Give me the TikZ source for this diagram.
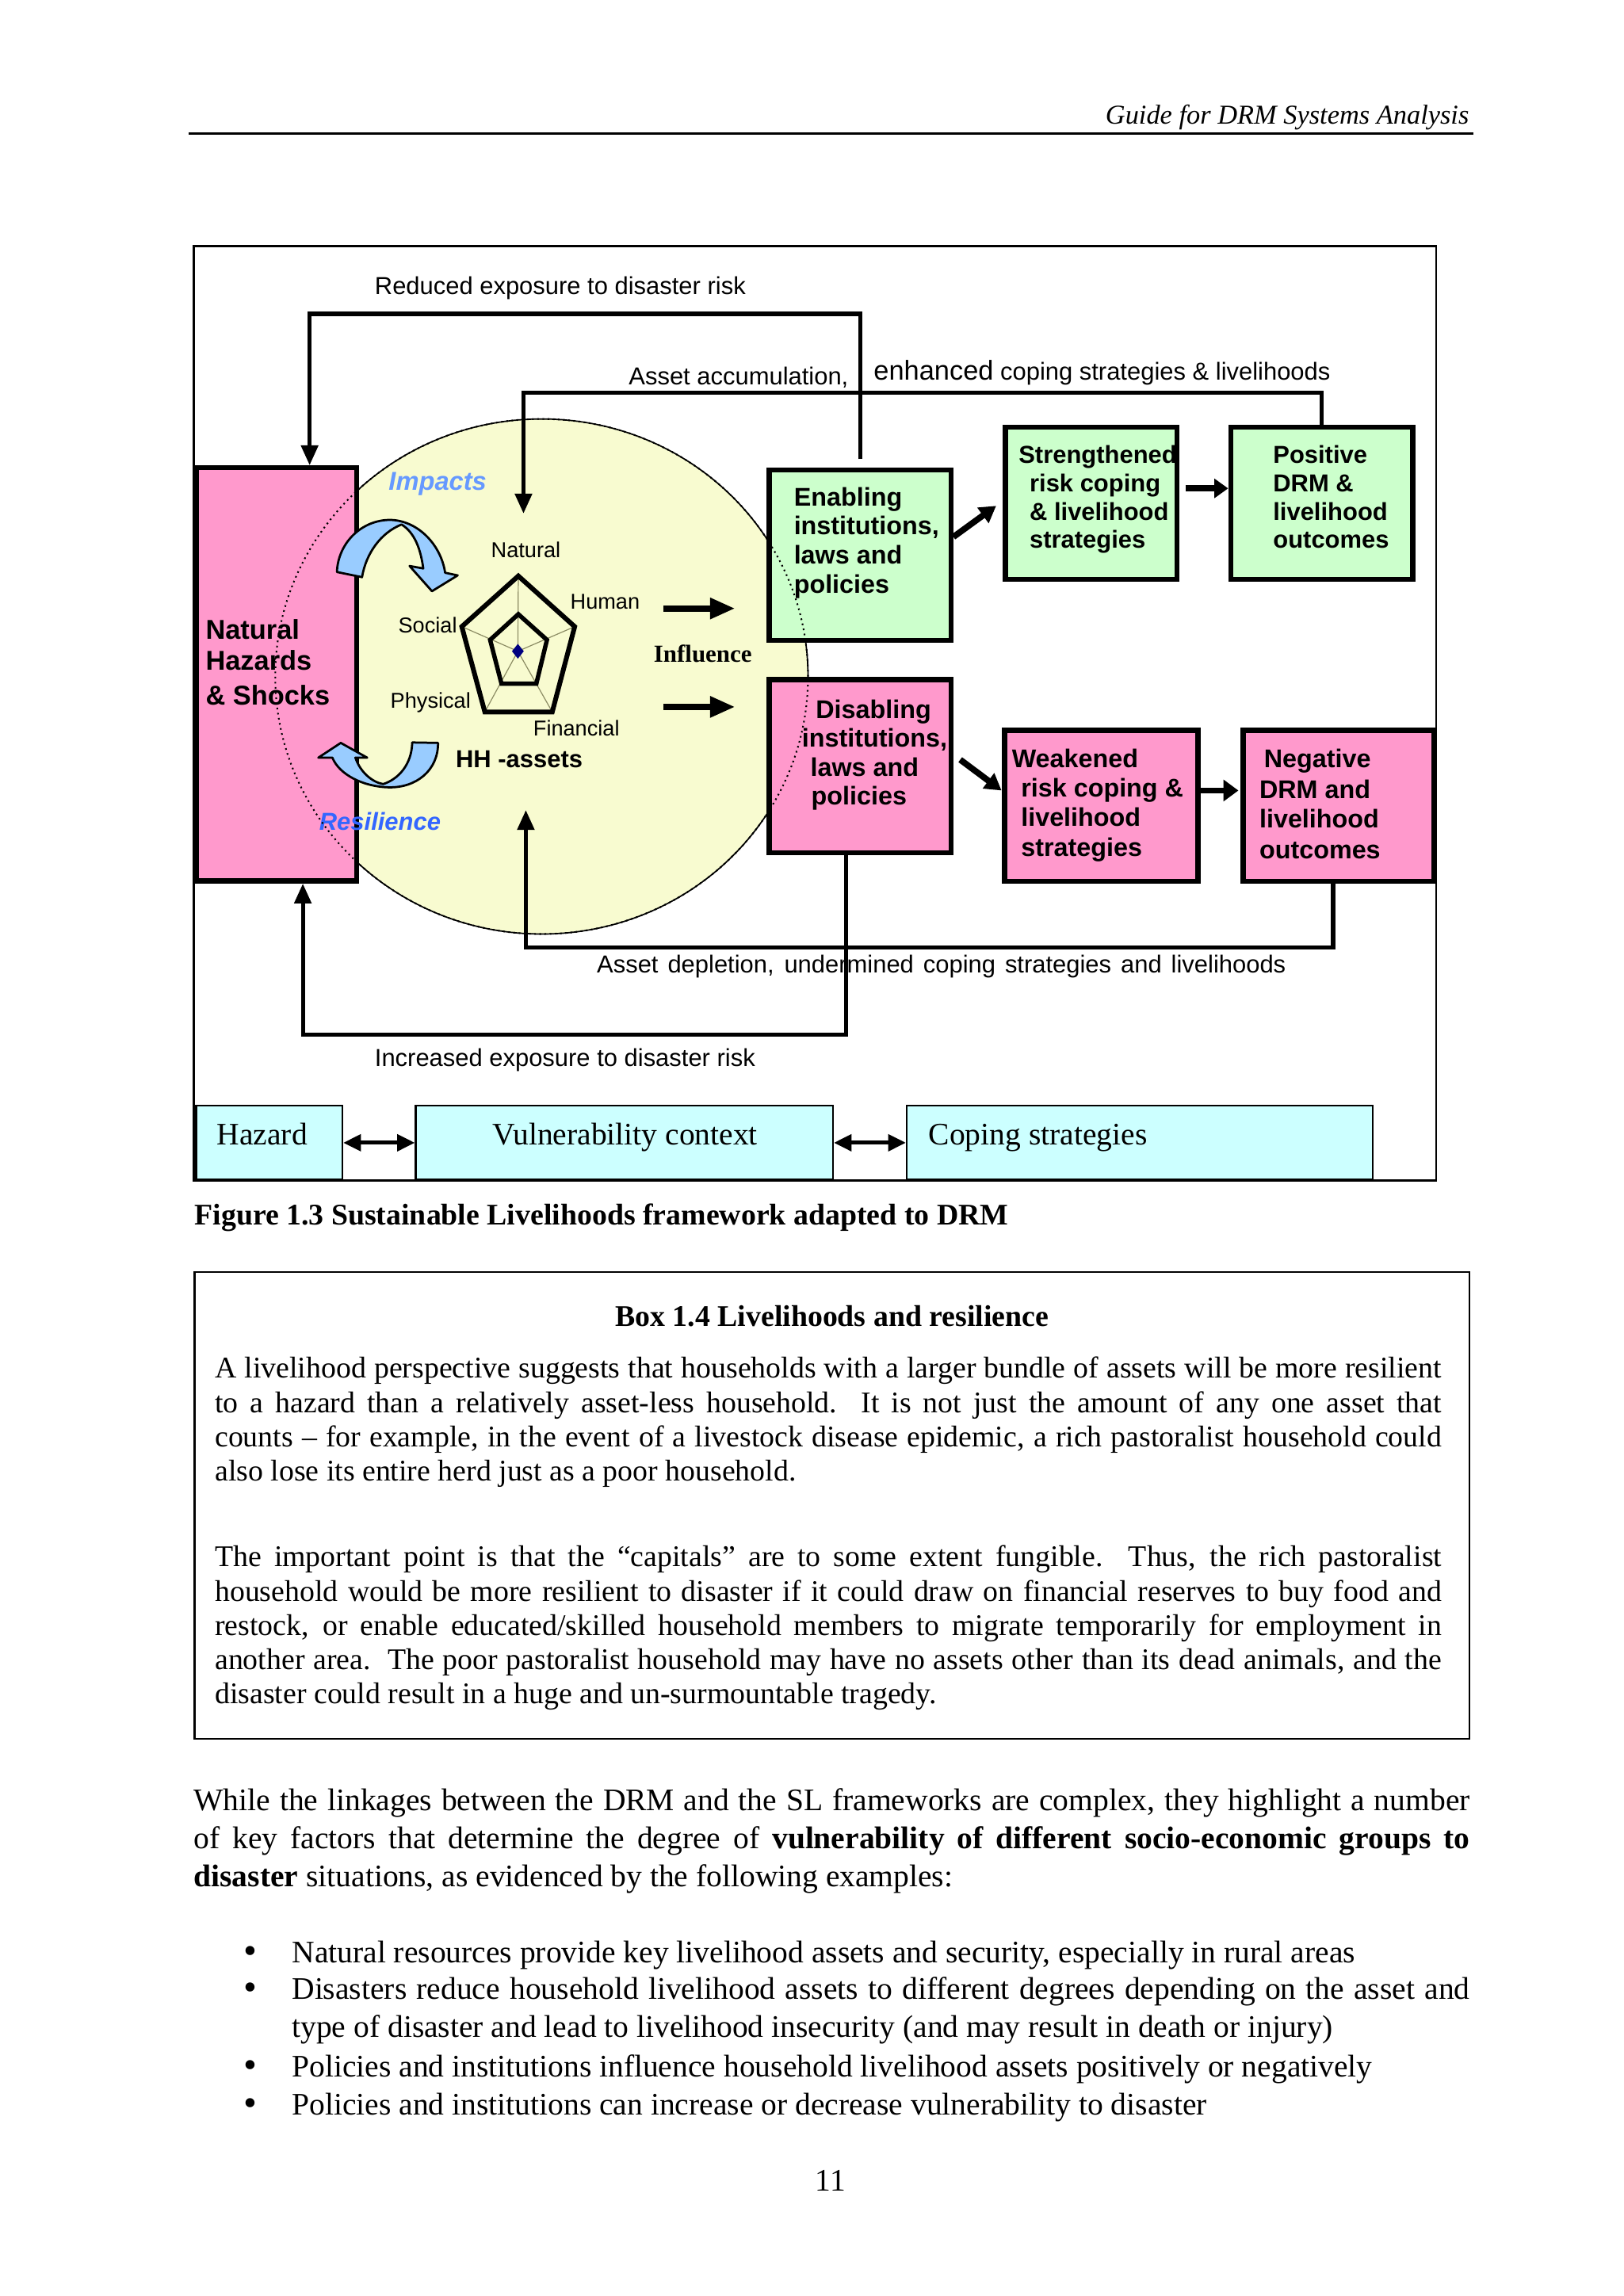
\documentclass[tikz,border=0pt]{standalone}
\usepackage{fontspec}
\setmainfont{Liberation Serif}
\newfontfamily\arialf{Liberation Sans}
\usetikzlibrary{arrows.meta}
\newlength{\ulen}\setlength{\ulen}{0.5415pt}
\definecolor{pinkc}{RGB}{255,153,204}
\definecolor{greenc}{RGB}{204,255,204}
\definecolor{yelc}{RGB}{248,251,208}
\definecolor{cyanc}{RGB}{204,255,255}
\definecolor{bluearr}{RGB}{153,204,255}
\definecolor{imptxt}{RGB}{102,153,255}
\definecolor{restxt}{RGB}{51,102,255}
\definecolor{navyc}{RGB}{0,0,128}
\definecolor{spokec}{RGB}{140,140,100}
\begin{document}
\begin{tikzpicture}[x=0.5415pt,y=-0.5415pt,
  box/.style={draw=black,line width=1.85pt,inner sep=0pt,line join=miter},
  legbox/.style={draw=black,fill=cyanc,line width=0.65pt,inner sep=0pt},
  lbl/.style={inner sep=0pt,anchor=base west,font=\arialf\bfseries\fontsize{9.4}{10.7}\selectfont},
  lbls/.style={inner sep=0pt,anchor=base west,font=\arialf\bfseries\fontsize{9}{10.3}\selectfont},
  sm/.style={inner sep=0pt,font=\arialf\fontsize{7.9}{9}\selectfont},
  lp/.style={inner sep=0pt,font=\arialf\fontsize{9}{10.8}\selectfont},
  loopln/.style={line width=1.5pt,line join=miter,-{Triangle[length=7.3pt,width=6.1pt]}},
  blk/.style={line width=2.27pt},
  dbl/.style={line width=1.45pt,{Triangle[length=6.5pt,width=6pt]}-{Triangle[length=6.5pt,width=6pt]}},
  txt/.style={inner sep=0pt,anchor=base west,font=\fontsize{11.5}{13.8}\selectfont},
  btxt/.style={inner sep=0pt,anchor=base west,font=\fontsize{11}{12.65}\selectfont},
  leg/.style={inner sep=0pt,anchor=base west,font=\fontsize{11.5}{13.8}\selectfont},
  bul/.style={inner sep=0pt,anchor=base,font=\fontsize{14}{14}\selectfont},
  barrow/.style={fill=bluearr,draw=black,line width=0.8pt,line join=round}
]
\fill[white] (0,0) rectangle (1100,1555.8);
\useasboundingbox (0,0) rectangle (1100,1555.8);

% header
\node[inner sep=0pt,anchor=base east,font=\itshape\fontsize{10}{12}\selectfont] (hdr) at (995.7,83.8) {Guide for DRM Systems Analysis};
\draw[line width=1pt] (127.8,90.5) -- (998.5,90.5);

% frame
\draw[line width=0.7pt] (131.2,166.8) rectangle (973,800);

% yellow circle
\fill[yelc] (367,458.4) ellipse [x radius=97.74pt, y radius=94.49pt];
\draw[line width=0.5pt] (367,458.4) ellipse [x radius=97.74pt, y radius=94.49pt];

% pentagon
\foreach \p in {(351.2,390.3),(389.4,424.6),(374.2,482.4),(328.5,482.4),(312.9,424.6)}
  \draw[spokec,line width=0.35pt] (350.9,441.3) -- \p;
\draw[line width=1.75pt,line join=miter] (351.2,390.3) -- (389.4,424.6) -- (374.2,482.4) -- (328.5,482.4) -- (312.9,424.6) -- cycle;
\draw[line width=1.6pt,line join=miter] (351.2,416.2) -- (370.6,433.6) -- (363.4,463.3) -- (339.8,463.3) -- (332.1,433.6) -- cycle;
\fill[navyc] (346.9,441.3) -- (350.9,436.3) -- (354.9,441.3) -- (350.9,446.3) -- cycle;

\node[sm,anchor=base] (lnat) at (356.3,377.7) {Natural};
\node[sm,anchor=base west] (lhum) at (386.1,412.8) {Human};
\node[sm,anchor=base east] (lsoc) at (310,428.7) {Social};
\node[sm,anchor=base east] (lphy) at (319.3,479.6) {Physical};
\node[sm,anchor=base west] (lfin) at (361,498.8) {Financial};
\node[lbls] (lhh) at (308.5,520) {HH -assets};
\node[inner sep=0pt,anchor=base west,font=\bfseries\fontsize{9}{10.8}\selectfont] (linf) at (442.6,448.9) {Influence};

% influence arrows
\coordinate (inf1s) at (449.7,412.3);
\coordinate (inf1e) at (498.1,412.3);
\coordinate (inf2s) at (449.7,479);
\coordinate (inf2e) at (498.1,479);
\draw[blk,-{Triangle[length=9.2pt,width=7.3pt]}] (inf1s) -- (inf1e);
\draw[blk,-{Triangle[length=9.2pt,width=7.3pt]}] (inf2s) -- (inf2e);

% boxes
\node[box,fill=pinkc,minimum width=58.86pt,minimum height=151.62pt] (nh) at (187.25,457) {};
\node[box,fill=greenc,minimum width=66.66pt,minimum height=62.6pt] (enab) at (582.75,376.2) {};
\node[box,fill=pinkc,minimum width=66.66pt,minimum height=63.57pt] (disab) at (582.75,519.2) {};
\node[box,fill=greenc,minimum width=62.92pt,minimum height=55.77pt] (stren) at (739.4,341.1) {};
\node[box,fill=greenc,minimum width=66.77pt,minimum height=55.77pt] (posi) at (895.55,341.1) {};
\node[box,fill=pinkc,minimum width=70.94pt,minimum height=55.45pt] (weak) at (746.2,546) {};
\node[box,fill=pinkc,minimum width=70.07pt,minimum height=55.45pt] (neg) at (907,546) {};

% blue curved arrows (on top of the hazard box)
\draw[barrow] (228.3,387.6) .. controls (229,368) and (245,352) .. (264.9,352.3)
  .. controls (284,353) and (299,370) .. (301.6,388.1) -- (310.1,389.9) -- (292.7,400.6)
  -- (277.5,383.5) -- (286.8,385.2) .. controls (285,372) and (281,361) .. (272.1,355.4)
  .. controls (258,361) and (248,375) .. (245.3,391.1) -- cycle;
\draw[barrow] (296.8,503.4) .. controls (297,522) and (282,534) .. (263.2,533.5)
  .. controls (246,533) and (230,525) .. (225.2,513.4) -- (215.7,513.4) -- (230.9,503.4)
  -- (248.8,513.4) -- (240.8,513.4) .. controls (244,523) and (252,530) .. (259.6,531.3)
  .. controls (270,528) and (279,518) .. (279.3,503.1) -- cycle;
\node[inner sep=0pt,anchor=base west,text=imptxt,font=\arialf\bfseries\itshape\fontsize{9.5}{11}\selectfont] (limp) at (263,332) {Impacts};
\node[inner sep=0pt,anchor=base west,text=restxt,font=\arialf\bfseries\itshape\fontsize{9}{11}\selectfont] (lres) at (216,562.3) {Resilience};

% box texts
\node[inner sep=0pt,anchor=base west,font=\arialf\bfseries\fontsize{10}{12}\selectfont] (nh1) at (139,432.9) {Natural};
\node[inner sep=0pt,anchor=base west,font=\arialf\bfseries\fontsize{10}{12}\selectfont] (nh2) at (139,454.1) {Hazards};
\node[inner sep=0pt,anchor=base west,font=\arialf\bfseries\fontsize{10}{12}\selectfont] (nh3) at (139,477.5) {\& Shocks};

\node[lbl] (en1) at (537.6,342.7) {Enabling};
\node[lbl] (en2) at (537.6,362.5) {institutions,};
\node[lbl] (en3) at (537.6,382) {laws and};
\node[lbl] (en4) at (537.6,402.2) {policies};

\node[lbl] (di1) at (552.4,486.6) {Disabling};
\node[lbl] (di2) at (543.1,505.9) {institutions,};
\node[lbl] (di3) at (548.8,525.9) {laws and};
\node[lbl] (di4) at (549.4,545.6) {policies};

\node[lbls] (st1) at (689.9,314.1) {Strengthened};
\node[lbls] (st2) at (697.3,333.2) {risk coping};
\node[lbls] (st3) at (697.3,352.3) {\& livelihood};
\node[lbls] (st4) at (697.3,371.4) {strategies};

\node[lbls] (po1) at (862.3,314.1) {Positive};
\node[lbls] (po2) at (862.3,333.2) {DRM \&};
\node[lbls] (po3) at (862.3,352.3) {livelihood};
\node[lbls] (po4) at (862.3,371.4) {outcomes};

\node[lbl] (we1) at (685.3,520) {Weakened};
\node[lbl] (we2) at (691.5,540) {risk coping \&};
\node[lbl] (we3) at (691.5,560) {livelihood};
\node[lbl] (we4) at (691.5,580) {strategies};

\node[lbl] (ne1) at (856.1,520) {Negative};
\node[lbl] (ne2) at (853,541) {DRM and};
\node[lbl] (ne3) at (853,561) {livelihood};
\node[lbl] (ne4) at (853,582) {outcomes};

% dotted circle outline on top
\draw[line width=0.6pt,dash pattern=on 0.6pt off 1.3pt] (367,458.4) ellipse [x radius=97.74pt, y radius=94.49pt];

% short arrows between boxes
\draw[blk,-{Triangle[length=6pt,width=6.7pt]}] ([yshift=6.7pt]enab.east) -- ([xshift=-2.5pt,yshift=-0.9pt]stren.west);
\draw[blk,-{Triangle[length=6pt,width=6.7pt]}] ([xshift=2.5pt,yshift=2.4pt]disab.east) -- ([xshift=-0.2pt,yshift=5.6pt]weak.west);
\draw[blk,-{Triangle[length=5.1pt,width=6.9pt]}] ([xshift=2.2pt,yshift=5.5pt]stren.east) -- ([yshift=5.5pt]posi.west);
\draw[blk,-{Triangle[length=5.5pt,width=7.7pt]}] ([yshift=5.6pt]weak.east) -- ([xshift=-0.8pt,yshift=5.6pt]neg.west);

% loop labels
\node[lp,anchor=base west] (tred) at (253.6,199.3) {Reduced exposure to disaster risk};
\node[lp,anchor=base east] (tacc) at (575.2,260.9) {Asset accumulation,};
\node[lp,anchor=base west] (tenh) at (591.7,257.7) {{\fontsize{10}{12}\selectfont enhanced} coping strategies \& livelihoods};
\node[lp,anchor=base west] (tdep) at (404.1,659.1) {\makebox[466.8\ulen][s]{Asset depletion, undermined coping strategies and livelihoods}};
\node[lp,anchor=base west] (tinc) at (253.6,722.6) {Increased exposure to disaster risk};

% loops
\coordinate (c1a) at (582.75,212.7);
\coordinate (c1b) at (209.8,212.7);
\draw[loopln] ([yshift=3pt]enab.north) -- (c1a) -- (c1b) -- (c1b |- nh.north);
\coordinate (c2a) at (895.55,266.2);
\coordinate (c2b) at (354.7,266.2);
\coordinate (c2t) at (354.7,348);
\draw[loopln] (posi.north) -- (c2a) -- (c2b) -- (c2t);
\coordinate (c3a) at (903.3,641.8);
\coordinate (c3b) at (356.3,641.8);
\coordinate (c3t) at (356.3,548.9);
\draw[loopln] (c3a |- neg.south) -- (c3a) -- (c3b) -- (c3t);
\coordinate (c4a) at (573.5,701);
\coordinate (c4b) at (205.2,701);
\draw[loopln] (c4a |- disab.south) -- (c4a) -- (c4b) -- (c4b |- nh.south);

% legend
\node[legbox,minimum width=53.66pt,minimum height=27.13pt] (hz) at (182.45,774.35) {};
\node[legbox,minimum width=153.08pt,minimum height=27.13pt] (vc) at (423.05,774.35) {};
\node[legbox,minimum width=170.95pt,minimum height=27.13pt] (cs) at (772.25,774.35) {};
\node[leg] (thz) at (146.6,776) {Hazard};
\node[leg] (tvc) at (333.2,776) {Vulnerability context};
\node[leg] (tcs) at (628.9,776) {Coping strategies};
\draw[dbl] (hz.east) -- (vc.west);
\draw[dbl] (vc.east) -- (cs.west);

% caption
\node[inner sep=0pt,anchor=base west,font=\bfseries\fontsize{11}{12.65}\selectfont] (cap) at (131.5,830) {Figure 1.3 Sustainable Livelihoods framework adapted to DRM};

% box 1.4
\draw[line width=0.7pt] (131.8,861.9) rectangle (995.7,1178.4);
\node[inner sep=0pt,anchor=base,font=\bfseries\fontsize{11}{12.65}\selectfont] (btitle) at (563.75,898.8) {Box 1.4 Livelihoods and resilience};
\node[btxt] (p1a) at (145.3,933.8) {\makebox[831.2\ulen][s]{A livelihood perspective suggests that households with a larger bundle of assets will be more resilient}};
\node[btxt] (p1b) at (145.3,957.1) {\makebox[831.2\ulen][s]{to a hazard than a relatively asset-less household.\ \ It is not just the amount of any one asset that}};
\node[btxt] (p1c) at (145.3,980.1) {\makebox[831.2\ulen][s]{counts – for example, in the event of a livestock disease epidemic, a rich pastoralist household could}};
\node[btxt] (p1d) at (145.3,1003.4) {also lose its entire herd just as a poor household.};
\node[btxt] (p2a) at (145.3,1061.7) {\makebox[831.2\ulen][s]{The important point is that the “capitals” are to some extent fungible. Thus, the rich pastoralist}};
\node[btxt] (p2b) at (145.3,1085) {\makebox[831.2\ulen][s]{household would be more resilient to disaster if it could draw on financial reserves to buy food and}};
\node[btxt] (p2c) at (145.3,1108.2) {\makebox[831.2\ulen][s]{restock, or enable educated/skilled household members to migrate temporarily for employment in}};
\node[btxt] (p2d) at (145.3,1131.4) {\makebox[831.2\ulen][s]{another area.\ \ The poor pastoralist household may have no assets other than its dead animals, and the}};
\node[btxt] (p2e) at (145.3,1154.6) {disaster could result in a huge and un-surmountable tragedy.};

% body text
\node[txt] (b1) at (131,1226.6) {\makebox[864.6\ulen][s]{While the linkages between the DRM and the SL frameworks are complex, they highlight a number}};
\node[txt] (b2) at (131,1252.4) {\makebox[864.6\ulen][s]{of key factors that determine the degree of \textbf{vulnerability of different socio-economic groups to}}};
\node[txt] (b3) at (131,1278.3) {\textbf{disaster} situations, as evidenced by the following examples:};

\node[bul] (d1) at (169.7,1330.5) {•};
\node[bul] (d2) at (169.7,1355.3) {•};
\node[bul] (d3) at (169.7,1407.9) {•};
\node[bul] (d4) at (169.7,1433.7) {•};
\node[txt] (u1) at (197.5,1329.9) {Natural resources provide key livelihood assets and security, especially in rural areas};
\node[txt] (u2a) at (197.5,1354.7) {\makebox[798.1\ulen][s]{Disasters reduce household livelihood assets to different degrees depending on the asset and}};
\node[txt] (u2b) at (197.5,1380.5) {type of disaster and lead to livelihood insecurity (and may result in death or injury)};
\node[txt] (u3) at (197.5,1407.3) {Policies and institutions influence household livelihood assets positively or negatively};
\node[txt] (u4) at (197.5,1433.1) {Policies and institutions can increase or decrease vulnerability to disaster};

\node[txt,anchor=base] (pg) at (562.8,1484.7) {11};
\end{tikzpicture}
\end{document}
